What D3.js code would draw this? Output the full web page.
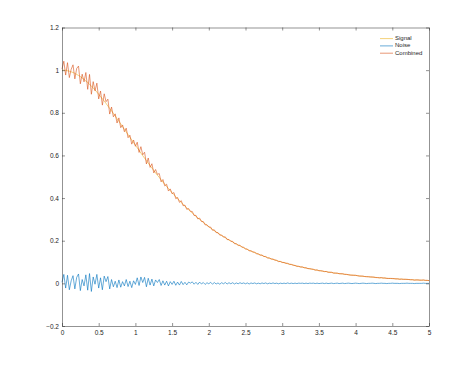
<!DOCTYPE html>
<html>
<head>
<meta charset="utf-8">
<script src="https://cdn.jsdelivr.net/npm/d3@7"></script>
<style>
  html, body { margin: 0; padding: 0; background: #fff; }
  svg { display: block; font-family: "Liberation Sans", Arial, sans-serif; }
</style>
</head>
<body>
<svg id="chart" width="474" height="366"></svg>
<script>
// sample grid: 0 to 5 in steps of 0.025
const tStep = 0.025;
const sampleCount = 201;

// smooth decaying signal
const signal = [
    1.000, 1.000, 0.999, 0.997, 0.995, 0.992, 0.989, 0.985, 0.980, 0.975,
    0.970, 0.963, 0.957, 0.949, 0.942, 0.934, 0.925, 0.916, 0.907, 0.897,
    0.887, 0.876, 0.866, 0.855, 0.844, 0.832, 0.820, 0.809, 0.797, 0.785,
    0.772, 0.760, 0.748, 0.735, 0.723, 0.710, 0.698, 0.685, 0.673, 0.660,
    0.648, 0.636, 0.624, 0.611, 0.599, 0.587, 0.576, 0.564, 0.552, 0.541,
    0.530, 0.518, 0.507, 0.497, 0.486, 0.475, 0.465, 0.455, 0.445, 0.435,
    0.425, 0.416, 0.406, 0.397, 0.388, 0.379, 0.370, 0.362, 0.354, 0.345,
    0.337, 0.330, 0.322, 0.314, 0.307, 0.300, 0.293, 0.286, 0.279, 0.272,
    0.266, 0.259, 0.253, 0.247, 0.241, 0.236, 0.230, 0.224, 0.219, 0.214,
    0.208, 0.203, 0.199, 0.194, 0.189, 0.184, 0.180, 0.176, 0.171, 0.167,
    0.163, 0.159, 0.155, 0.151, 0.148, 0.144, 0.141, 0.137, 0.134, 0.131,
    0.127, 0.124, 0.121, 0.118, 0.115, 0.112, 0.110, 0.107, 0.104, 0.102,
    0.099, 0.097, 0.095, 0.092, 0.090, 0.088, 0.086, 0.083, 0.081, 0.079,
    0.077, 0.076, 0.074, 0.072, 0.070, 0.068, 0.067, 0.065, 0.063, 0.062,
    0.060, 0.059, 0.057, 0.056, 0.055, 0.053, 0.052, 0.051, 0.049, 0.048,
    0.047, 0.046, 0.045, 0.044, 0.043, 0.042, 0.040, 0.039, 0.039, 0.038,
    0.037, 0.036, 0.035, 0.034, 0.033, 0.032, 0.032, 0.031, 0.030, 0.029,
    0.029, 0.028, 0.027, 0.026, 0.026, 0.025, 0.025, 0.024, 0.023, 0.023,
    0.022, 0.022, 0.021, 0.021, 0.020, 0.020, 0.019, 0.019, 0.018, 0.018,
    0.017, 0.017, 0.016, 0.016, 0.016, 0.015, 0.015, 0.015, 0.014, 0.014,
    0.013
];

// decaying noise
const noise = [
    0.005, 0.042, -0.022, 0.038, -0.030, 0.012, 0.036, -0.026, 0.028, 0.044,
    -0.034, 0.018, -0.012, 0.040, -0.032, 0.046, -0.038, 0.030, -0.004, 0.042,
    -0.022, 0.026, -0.030, 0.034, 0.008, 0.032, -0.026, 0.018, -0.016, 0.010,
    -0.020, 0.016, -0.018, 0.008, -0.012, 0.018, -0.015, 0.010, -0.020, 0.012,
    -0.005, 0.026, -0.010, 0.030, 0.004, 0.028, -0.016, 0.024, -0.008, 0.020,
    -0.012, 0.016, 0.004, 0.018, -0.010, 0.012, -0.008, 0.010, -0.012, 0.008,
    -0.005, 0.010, -0.009, 0.006, -0.008, 0.009, -0.006, 0.005, -0.007, 0.006,
    0.001, 0.007, -0.004, 0.005, -0.005, 0.006, -0.003, 0.004, -0.005, 0.003,
    -0.002, 0.005, -0.004, 0.004, -0.003, 0.002, -0.004, 0.003, -0.002, 0.004,
    -0.003, 0.003, -0.002, 0.003, -0.003, 0.002, -0.002, 0.003, -0.001, 0.002,
    -0.002, 0.002, -0.003, 0.002, -0.001, 0.002, -0.002, 0.001, -0.002, 0.002,
    -0.001, 0.002, -0.002, 0.001, -0.001, 0.002, -0.001, 0.001, -0.002, 0.001,
    -0.001, 0.001, -0.001, 0.002, -0.001, 0.001, -0.001, 0.001, -0.001, 0.001,
    0.000, 0.001, -0.001, 0.001, -0.001, 0.001, 0.000, 0.001, -0.001, 0.001,
    -0.001, 0.000, 0.001, -0.001, 0.001, -0.001, 0.000, 0.001, -0.001, 0.000,
    0.001, -0.001, 0.000, 0.001, -0.001, 0.000, 0.001, 0.000, -0.001, 0.000,
    0.001, 0.000, -0.001, 0.000, 0.001, 0.000, -0.001, 0.000, 0.000, 0.001,
    0.000, -0.001, 0.000, 0.000, 0.001, 0.000, 0.000, -0.001, 0.000, 0.000,
    0.001, 0.000, 0.000, 0.000, -0.001, 0.000, 0.000, 0.000, 0.001, 0.000,
    0.000, 0.000, -0.001, 0.000, 0.000, 0.000, 0.000, 0.001, 0.000, 0.000,
    0.000
];

const seriesNames = ['Signal', 'Noise', 'Combined'];
const seriesColours = ['#EDB120', '#0072BD', '#D95319'];

const xTicks = [0, 0.5, 1, 1.5, 2, 2.5, 3, 3.5, 4, 4.5, 5];
const yTicks = [-0.2, 0, 0.2, 0.4, 0.6, 0.8, 1, 1.2];

function drawChart(svgEl) {
    const svg = d3.select(svgEl);

    const left = 62, right = 429, top = 27.5, bottom = 326;

    const x = d3.scaleLinear().domain([0, 5]).range([left, right]);
    const y = d3.scaleLinear().domain([-0.2, 1.2]).range([bottom, top]);

    const t = d3.range(sampleCount).map(i => i * tStep);
    const combined = signal.map((v, i) => v + noise[i]);
    const series = [signal, noise, combined];

    svg.append('rect')
        .attr('width', 474).attr('height', 366)
        .attr('fill', '#fff');

    const line = d3.line()
        .x((d, i) => x(t[i]))
        .y(d => y(d));

    svg.selectAll('path.series')
        .data(series)
        .enter()
        .append('path')
        .attr('class', 'series')
        .attr('d', d => line(d))
        .attr('fill', 'none')
        .attr('stroke', (d, i) => seriesColours[i])
        .attr('stroke-width', 0.6)
        .attr('stroke-linejoin', 'round');

    // axes, ticks pointing inwards like the original
    const fmt = d => d3.format('')(+d.toFixed(1));
    const tickLen = 3;
    const axisColour = '#262626';

    const gx = svg.append('g')
        .attr('transform', `translate(0,${bottom})`)
        .call(d3.axisBottom(x).tickValues(xTicks).tickFormat(fmt)
            .tickSizeInner(-tickLen).tickSizeOuter(0).tickPadding(4));
    const gy = svg.append('g')
        .attr('transform', `translate(${left},0)`)
        .call(d3.axisLeft(y).tickValues(yTicks).tickFormat(fmt)
            .tickSizeInner(-tickLen).tickSizeOuter(0).tickPadding(3));
    const gt = svg.append('g')
        .attr('transform', `translate(0,${top})`)
        .call(d3.axisTop(x).tickValues(xTicks).tickFormat('')
            .tickSizeInner(-tickLen).tickSizeOuter(0));
    const gr = svg.append('g')
        .attr('transform', `translate(${right},0)`)
        .call(d3.axisRight(y).tickValues(yTicks).tickFormat('')
            .tickSizeInner(-tickLen).tickSizeOuter(0));

    [gx, gy, gt, gr].forEach(g => {
        g.attr('color', axisColour);
        g.selectAll('.domain').attr('stroke', axisColour).attr('stroke-width', 0.5);
        g.selectAll('.tick line').attr('stroke', axisColour).attr('stroke-width', 0.5);
        g.selectAll('.tick text')
            .attr('fill', axisColour)
            .attr('font-size', '6.5px')
            .attr('font-family', '"Liberation Sans", Arial, sans-serif');
    });

    // legend
    const legend = svg.append('g').attr('class', 'legend');
    seriesNames.forEach((name, i) => {
        const ly = 38.6 + i * 7.3;
        legend.append('line')
            .attr('x1', 380).attr('x2', 393)
            .attr('y1', ly).attr('y2', ly)
            .attr('stroke', seriesColours[i])
            .attr('stroke-width', 0.6);
        legend.append('text')
            .attr('x', 395).attr('y', ly)
            .attr('dominant-baseline', 'middle')
            .attr('font-size', '6px')
            .attr('fill', axisColour)
            .text(name);
    });
}

drawChart(document.getElementById('chart'));
</script>
</body>
</html>
